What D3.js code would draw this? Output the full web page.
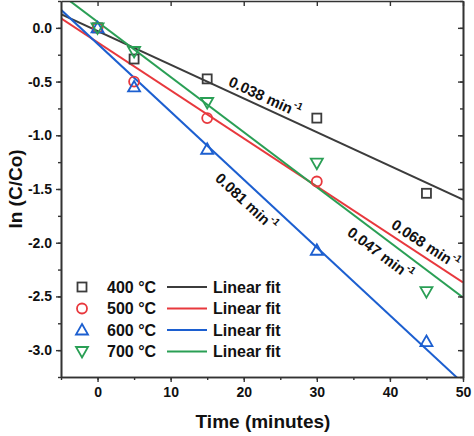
<!DOCTYPE html>
<html>
<head>
<meta charset="utf-8">
<script src="https://cdn.jsdelivr.net/npm/d3@7"></script>
<style>
  body { margin: 0; background: #fff; }
  text { font-family: "Liberation Sans", Arial, sans-serif; font-weight: bold; fill: #111; }
</style>
</head>
<body>
<div id="chart"></div>
<script>
// data
const times = [0, 5, 15, 30, 45];
const seriesNames = ["400 °C", "500 °C", "600 °C", "700 °C"];
const vals400 = [0.0, -0.29, -0.475, -0.84, -1.54];
const vals500 = [0.0, -0.50, -0.84, -1.43, null];
const vals600 = [0.0, -0.55, -1.13, -2.07, -2.92];
const vals700 = [0.0, -0.22, -0.695, -1.26, -2.455];
// linear fits: [slope, intercept]
const fit400 = [-0.0314, -0.029];
const fit500 = [-0.0447, -0.134];
const fit600 = [-0.0632, -0.148];
const fit700 = [-0.0513, 0.056];
const rateLabels = ["0.038", "0.068", "0.081", "0.047"];
const xTicks = [0, 10, 20, 30, 40, 50];
const yTicks = [0.0, -0.5, -1.0, -1.5, -2.0, -2.5, -3.0];

const colors = ["#3c3c3c", "#e8383d", "#1c5fd0", "#2a9f55"];
const symbols = ["square", "circle", "up", "down"];

const W = 474, H = 436;
const margin = {top: 1, right: 11, bottom: 59, left: 61};
const width = W - margin.left - margin.right;
const height = H - margin.top - margin.bottom;

const svg = d3.select("#chart").append("svg")
    .attr("width", W)
    .attr("height", H);
const g = svg.append("g")
    .attr("transform", "translate(" + margin.left + "," + margin.top + ")");

const x = d3.scaleLinear().domain([-5, 50]).range([0, width]);
const y = d3.scaleLinear().domain([-3.25, 0.25]).range([height, 0]);

const series = [vals400, vals500, vals600, vals700].map((v, i) => ({
    name: seriesNames[i], vals: v, color: colors[i], sym: symbols[i],
    fit: [fit400, fit500, fit600, fit700][i], rate: rateLabels[i]
}));

// fit lines, clipped to the plot
g.append("clipPath").attr("id", "clip")
  .append("rect").attr("width", width).attr("height", height);

const lineGen = d3.line().x(d => x(d[0])).y(d => y(d[1]));
series.forEach(s => {
    const pts = [-5, 50].map(t => [t, s.fit[1] + s.fit[0] * t]);
    g.append("path")
        .attr("d", lineGen(pts))
        .attr("clip-path", "url(#clip)")
        .attr("fill", "none")
        .attr("stroke", s.color)
        .attr("stroke-width", 2);
});

function marker(sel, sym, color) {
    if (sym === "square") {
        sel.append("rect").attr("x", -4.5).attr("y", -4.5).attr("width", 9).attr("height", 9);
    } else if (sym === "circle") {
        sel.append("circle").attr("r", 5);
    } else if (sym === "up") {
        sel.append("path").attr("d", "M0,-6L6,4.5L-6,4.5Z");
    } else {
        sel.append("path").attr("d", "M0,6L6,-4.5L-6,-4.5Z");
    }
    sel.selectAll("*").attr("fill", "none").attr("stroke", color).attr("stroke-width", 1.8);
}

series.forEach(s => {
    times.forEach((t, j) => {
        if (s.vals[j] === null) return;
        const m = g.append("g").attr("transform", "translate(" + x(t) + "," + y(s.vals[j]) + ")");
        marker(m, s.sym, s.color);
    });
});

// rate annotations along the fit lines
const labelPos = [
    {t: 22.3, off: -11},   // 400
    {t: 44.0, off: -12},   // 500
    {t: 21.7, off: 14},    // 600
    {t: 39.9, off: 14}     // 700
];
series.forEach((s, i) => {
    const p = labelPos[i];
    const px = x(p.t), py = y(s.fit[1] + s.fit[0] * p.t);
    const ang = Math.atan2(y(s.fit[0]) - y(0), x(1) - x(0)) * 180 / Math.PI;
    const t = g.append("text")
        .attr("transform", "translate(" + px + "," + py + ") rotate(" + ang + ") translate(0," + p.off + ")")
        .attr("text-anchor", "middle")
        .attr("dominant-baseline", "central")
        .style("font-size", "15px");
    t.append("tspan").text(s.rate + " min");
    t.append("tspan").attr("dy", -6).style("font-size", "10px").text("-1");
});

// axes
const minorX = d3.range(-5, 51, 5);
const minorY = d3.range(-3.25, 0.26, 0.25);

g.append("g").attr("transform", "translate(0," + height + ")")
    .call(d3.axisBottom(x).tickValues(minorX).tickSize(3).tickFormat("").tickSizeOuter(0));
g.append("g").attr("transform", "translate(0," + height + ")")
    .call(d3.axisBottom(x).tickValues(xTicks).tickSize(5).tickPadding(5).tickSizeOuter(0))
    .selectAll("text").style("font-size", "14px");

g.append("g")
    .call(d3.axisLeft(y).tickValues(minorY).tickSize(3).tickFormat("").tickSizeOuter(0));
g.append("g")
    .call(d3.axisLeft(y).tickValues(yTicks).tickSize(5).tickPadding(4)
        .tickFormat(d => d.toFixed(1)).tickSizeOuter(0))
    .selectAll("text").style("font-size", "14px");

g.append("g")
    .call(d3.axisTop(x).tickValues(xTicks).tickSize(-5).tickFormat("").tickSizeOuter(0));
g.append("g").attr("transform", "translate(" + width + ",0)")
    .call(d3.axisRight(y).tickValues(yTicks).tickSize(-5).tickFormat("").tickSizeOuter(0));
g.append("g").attr("transform", "translate(" + width + ",0)")
    .call(d3.axisRight(y).tickValues(minorY).tickSize(-3).tickFormat("").tickSizeOuter(0));

g.selectAll(".domain").attr("stroke", "#333").attr("stroke-width", 1.6);
g.selectAll(".tick line").attr("stroke", "#333").attr("stroke-width", 1.4);
g.selectAll(".tick text").attr("fill", "#111");

// axis titles
svg.append("text")
    .attr("x", 263).attr("y", 428)
    .attr("text-anchor", "middle")
    .style("font-size", "19px")
    .text("Time (minutes)");
svg.append("text")
    .attr("transform", "translate(22," + (margin.top + height / 2) + ") rotate(-90)")
    .attr("text-anchor", "middle")
    .style("font-size", "19px")
    .text("ln (C/Co)");

// legend
series.forEach((s, i) => {
    const ly = 287 + i * 21.5;
    const m = svg.append("g").attr("transform", "translate(82," + ly + ")");
    marker(m, s.sym, s.color);
    svg.append("text").attr("x", 107).attr("y", ly).attr("dominant-baseline", "central")
        .style("font-size", "16px").text(s.name);
    svg.append("line").attr("x1", 167).attr("x2", 207).attr("y1", ly).attr("y2", ly)
        .attr("stroke", s.color).attr("stroke-width", 2);
    svg.append("text").attr("x", 213).attr("y", ly).attr("dominant-baseline", "central")
        .style("font-size", "16px").text("Linear fit");
});
</script>
</body>
</html>
